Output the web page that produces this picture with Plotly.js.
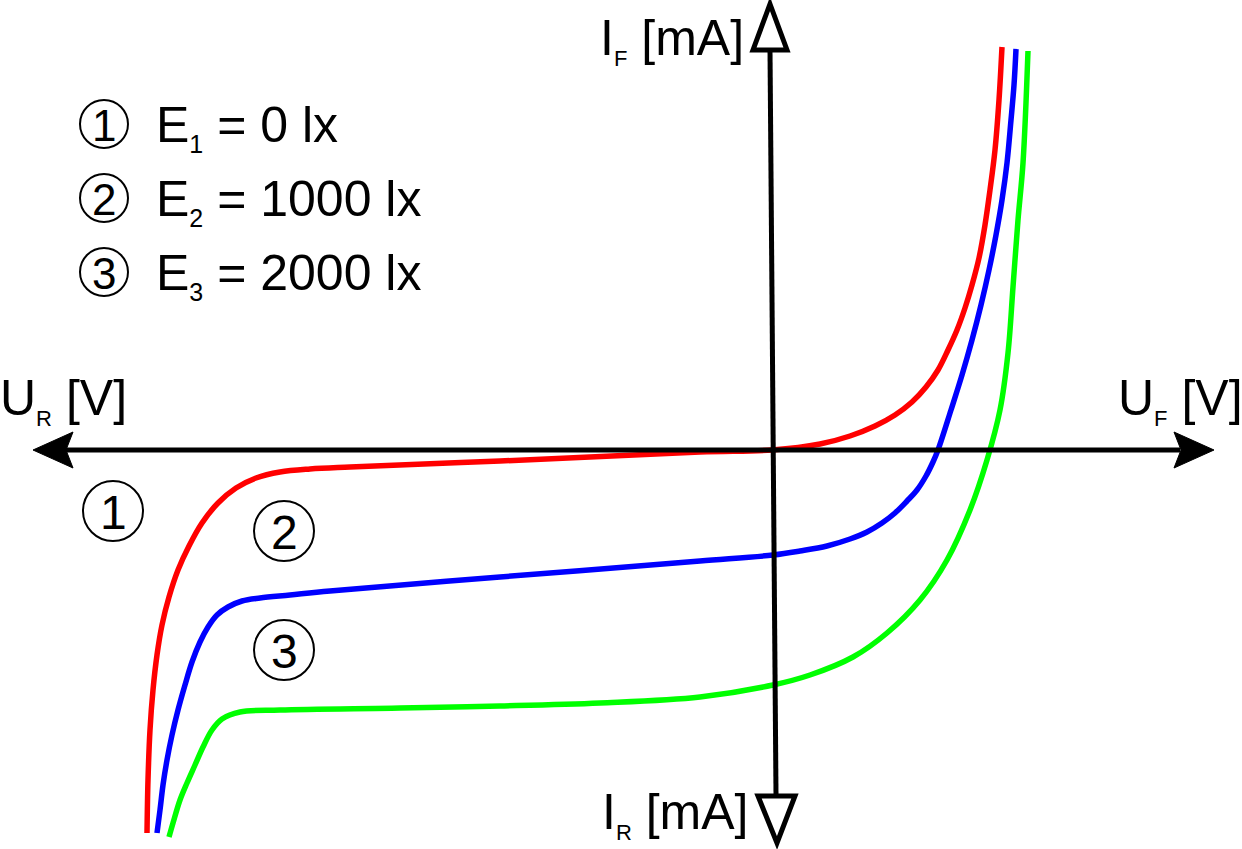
<!DOCTYPE html>
<html>
<head>
<meta charset="utf-8">
<script src="https://cdn.plot.ly/plotly-3.0.1.min.js"></script>
<style>html,body{margin:0;padding:0;background:#fff;}#chart{width:1242px;height:849px;}</style>
</head>
<body>
<div id="chart"></div>
<script>
// ---- Data (U in V, I in mA, schematic units) ----
const curveNames = ["E1 = 0 lx", "E2 = 1000 lx", "E3 = 2000 lx"];
const curveColors = ["#ff0000", "#0000ff", "#00ff00"];

const u1 = [-6.25,-6.24,-6.22,-6.19,-6.15,-6.10,-6.03,-5.94,-5.83,-5.70,-5.54,-5.36,-5.16,-4.92,-4.62,-4.22,-2.72,-0.72,0,0.48,0.78,1.03,1.23,1.40,1.54,1.66,1.76,1.85,1.93,2.00,2.07,2.13,2.18,2.23,2.27,2.30];
const i1 = [-3.83,-3.30,-2.80,-2.40,-2.05,-1.75,-1.47,-1.20,-0.96,-0.73,-0.53,-0.38,-0.28,-0.22,-0.19,-0.17,-0.11,-0.02,0,0.06,0.14,0.24,0.35,0.48,0.63,0.80,1.00,1.20,1.42,1.65,1.92,2.25,2.60,3.00,3.50,4.03];

const u2 = [-6.15,-6.12,-6.09,-6.05,-6.00,-5.94,-5.87,-5.80,-5.72,-5.64,-5.55,-5.44,-5.30,-5.12,-4.82,-4.42,-2.72,-0.72,0.01,0.28,0.55,0.78,0.95,1.10,1.23,1.35,1.45,1.54,1.61,1.66,1.79,1.90,2.00,2.09,2.17,2.24,2.30,2.35,2.39,2.42,2.44];
const i2 = [-3.83,-3.60,-3.35,-3.10,-2.85,-2.60,-2.35,-2.12,-1.92,-1.77,-1.65,-1.57,-1.51,-1.48,-1.45,-1.41,-1.27,-1.11,-1.05,-1.01,-0.96,-0.89,-0.82,-0.73,-0.63,-0.51,-0.40,-0.26,-0.12,0,0.40,0.75,1.10,1.45,1.80,2.15,2.50,2.87,3.30,3.65,4.01];

const u3 = [-6.03,-5.99,-5.92,-5.85,-5.77,-5.69,-5.60,-5.50,-5.32,-4.92,-3.72,-2.72,-1.72,-0.72,0.01,0.38,0.81,1.15,1.48,1.75,1.98,2.15,2.28,2.36,2.41,2.46,2.51,2.56];
const i3 = [-3.87,-3.73,-3.50,-3.33,-3.15,-2.97,-2.80,-2.69,-2.62,-2.60,-2.58,-2.56,-2.53,-2.47,-2.35,-2.25,-2.07,-1.83,-1.50,-1.10,-0.60,-0.10,0.40,0.97,1.63,2.30,2.87,3.99];

const legendNums = ["1", "2", "3"];
const SUBL = s => "<sub><span style='font-size:25px'>" + s + "</span></sub>";
const SUBA = s => "<sub><span style='font-size:22px'>" + s + "</span></sub>";
const legendTexts = ["E" + SUBL("1") + " = 0 lx", "E" + SUBL("2") + " = 1000 lx", "E" + SUBL("3") + " = 2000 lx"];
const axisLabels = {uf: "U" + SUBA("F") + " [V]", ur: "U" + SUBA("R") + " [V]", iF: "I" + SUBA("F") + " [mA]", iR: "I" + SUBA("R") + " [mA]"};

// ---- Layout helpers: convert picture pixel positions to axis units ----
const X0 = 772, Y0 = 450, S = 100;
const px = p => (p - X0) / S;
const py = p => (Y0 - p) / S;
const FONT = "Liberation Sans, Arial, Helvetica, sans-serif";

const traces = [[u1,i1],[u2,i2],[u3,i3]].map((d, k) => ({
  x: d[0], y: d[1], type: "scatter", mode: "lines", name: curveNames[k],
  line: {color: curveColors[k], width: 5.5, shape: "spline", smoothing: 1},
  hoverinfo: "skip"
}));

const shapes = [];
const ann = [];
// axes
shapes.push({type:"line", x0:px(64), y0:py(450), x1:px(1180), y1:py(450), line:{color:"#000", width:5}});
shapes.push({type:"line", x0:px(770), y0:py(50), x1:px(776), y1:py(795), line:{color:"#000", width:5}});
function pathOf(pts, close){
  return pts.map((p,i)=>(i?"L":"M")+px(p[0])+","+py(p[1])).join(" ") + (close?" Z":"");
}
shapes.push({type:"path", path:pathOf([[33,450],[73,432],[66,450],[73,468]],true), fillcolor:"#000", line:{color:"#000", width:1}});
shapes.push({type:"path", path:pathOf([[1214,450],[1174,432],[1181,450],[1174,468]],true), fillcolor:"#000", line:{color:"#000", width:1}});
shapes.push({type:"path", path:pathOf([[770,4],[787,50],[753,50]],true), fillcolor:"#fff", line:{color:"#000", width:5}});
shapes.push({type:"path", path:pathOf([[758,796],[795,796],[777,843]],true), fillcolor:"#fff", line:{color:"#000", width:5}});

// legend circles & text
const legY = [124, 198, 272];
legY.forEach((yy, k) => {
  shapes.push({type:"circle", x0:px(80), x1:px(128), y0:py(yy-24), y1:py(yy+24), line:{color:"#000", width:2}});
  ann.push({x:px(104), y:py(yy+1), text:legendNums[k], showarrow:false, xanchor:"center", yanchor:"middle", font:{family:FONT, size:44, color:"#000"}});
  ann.push({x:px(154), y:py(yy+3), text:legendTexts[k], showarrow:false, xanchor:"left", yanchor:"middle", font:{family:FONT, size:50, color:"#000"}});
});
// curve labels
const curveLab = [[113,511],[284,531],[284,650]];
curveLab.forEach((c,k)=>{
  shapes.push({type:"circle", x0:px(c[0]-30), x1:px(c[0]+30), y0:py(c[1]-30), y1:py(c[1]+30), line:{color:"#000", width:2}});
  ann.push({x:px(c[0]), y:py(c[1]+1), text:legendNums[k], showarrow:false, xanchor:"center", yanchor:"middle", font:{family:FONT, size:48, color:"#000"}});
});
// axis labels
ann.push({x:px(746), y:py(40), text:axisLabels.iF, showarrow:false, xanchor:"right", yanchor:"middle", font:{family:FONT, size:50, color:"#000"}});
ann.push({x:px(750), y:py(814), text:axisLabels.iR, showarrow:false, xanchor:"right", yanchor:"middle", font:{family:FONT, size:50, color:"#000"}});
ann.push({x:px(1), y:py(400), xshift:-3, text:axisLabels.ur, showarrow:false, xanchor:"left", yanchor:"middle", font:{family:FONT, size:50, color:"#000"}});
ann.push({x:px(1241), y:py(400), xshift:4, text:axisLabels.uf, showarrow:false, xanchor:"right", yanchor:"middle", font:{family:FONT, size:50, color:"#000"}});

const layout = {
  width:1242, height:849, margin:{l:0,r:0,t:0,b:0},
  paper_bgcolor:"#fff", plot_bgcolor:"#fff", showlegend:false,
  xaxis:{range:[px(0), px(1242)], visible:false, fixedrange:true},
  yaxis:{range:[py(849), py(0)], visible:false, fixedrange:true},
  shapes: shapes, annotations: ann
};
Plotly.newPlot("chart", traces, layout, {displayModeBar:false, staticPlot:true});
</script>
</body>
</html>
